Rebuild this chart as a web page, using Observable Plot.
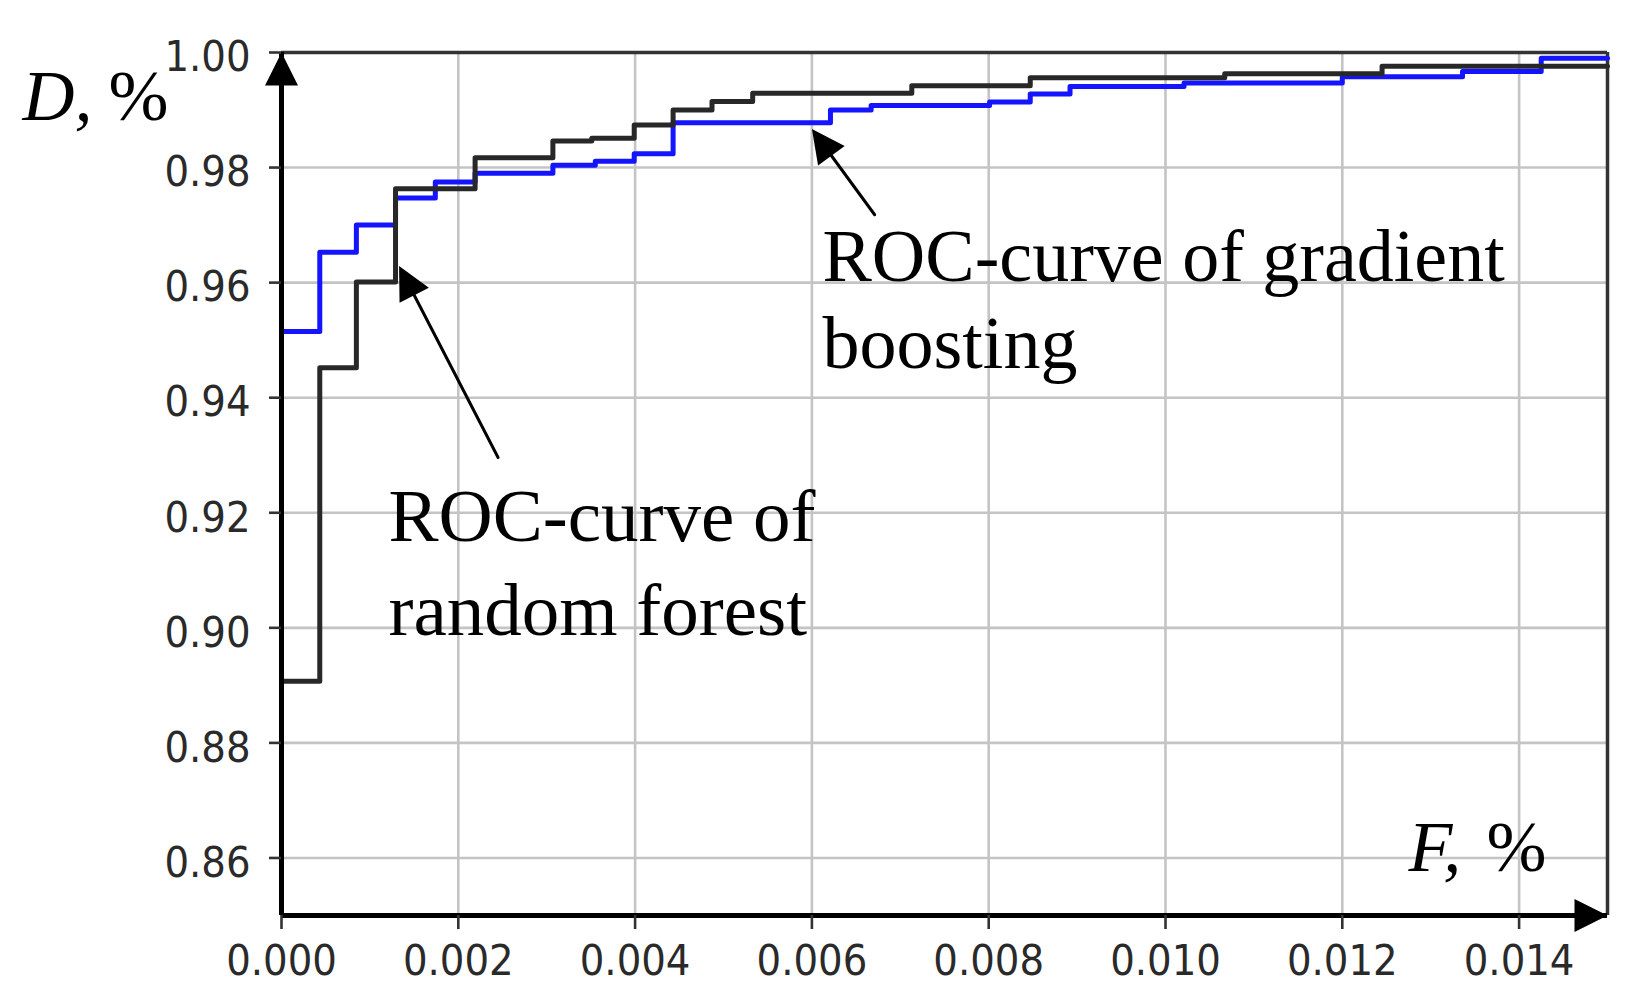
<!DOCTYPE html>
<html>
<head>
<meta charset="utf-8">
<script src="https://cdn.jsdelivr.net/npm/d3@7"></script>
<script src="https://cdn.jsdelivr.net/npm/@observablehq/plot@0.6"></script>
<style>
  html, body { margin: 0; padding: 0; background: #ffffff; }
  #chart { width: 1643px; height: 1008px; }
</style>
</head>
<body>
<div id="chart"></div>
<script>
// ---------- data ----------
const xTicks = [0, 0.002, 0.004, 0.006, 0.008, 0.010, 0.012, 0.014];
const yTicks = [0.86, 0.88, 0.90, 0.92, 0.94, 0.96, 0.98, 1.00];
const xDomain = [0, 0.015];
const yDomain = [0.85, 1.00];

// ROC-curve of random forest (black)
const rfF = [0, 0.000433, 0.000847, 0.00129, 0.00219, 0.00307, 0.00351, 0.00399, 0.00443, 0.00487, 0.00533, 0.00713, 0.00847, 0.01067, 0.01245, 0.015];
const rfD = [0.8907, 0.9452, 0.9601, 0.9763, 0.9817, 0.9846, 0.9851, 0.9874, 0.9900, 0.9915, 0.9929, 0.9942, 0.9956, 0.9963, 0.9976, 0.9976];

// ROC-curve of gradient boosting (blue)
const gbF = [0, 0.000433, 0.000847, 0.00129, 0.00174, 0.00219, 0.00307, 0.00355, 0.00399, 0.00443, 0.00621, 0.00667, 0.00801, 0.00847, 0.00892, 0.01021, 0.0120, 0.01336, 0.01425, 0.015];
const gbD = [0.9515, 0.9653, 0.9700, 0.9747, 0.9775, 0.9790, 0.9804, 0.9811, 0.9824, 0.9878, 0.9900, 0.9908, 0.9914, 0.9928, 0.9941, 0.9947, 0.9958, 0.9967, 0.9990, 0.9990];

// annotations
const rfLabel = "ROC-curve of\nrandom forest";
const gbLabel = "ROC-curve of gradient\nboosting";
const rfLabelAt = [0.00121, 0.8987];
const gbLabelAt = [0.00612, 0.9451];
const rfArrowTail = [0.00245, 0.9296];
const rfArrowTip = [0.00133, 0.9629];
const gbArrowTail = [0.00671, 0.9718];
const gbArrowTip = [0.00600, 0.9867];
const yAxisLabel = ["D,", "%"];
const xAxisLabel = ["F,", "%"];

// ---------- layout ----------
const W = 1643, H = 1008;
const mL = 281, mR = 36, mT = 52, mB = 93;
const serif = "'Liberation Serif', 'Times New Roman', serif";
const sans = "'DejaVu Sans Condensed', 'DejaVu Sans', sans-serif";

const rf = rfF.map((f, i) => ({F: f, D: rfD[i]}));
const gb = gbF.map((f, i) => ({F: f, D: gbD[i]}));

// mirror scales only to compute arrowhead angles
const xs = d3.scaleLinear(xDomain, [mL, W - mR]);
const ys = d3.scaleLinear(yDomain, [H - mB, mT]);
const angleOf = (tail, tip) =>
  Math.atan2(xs(tip[0]) - xs(tail[0]), -(ys(tip[1]) - ys(tail[1]))) * 180 / Math.PI;

// filled triangle, tip at the origin, pointing up
const triangle = {
  draw(ctx) {
    ctx.moveTo(0, 0);
    ctx.lineTo(-16.5, 33);
    ctx.lineTo(16.5, 33);
    ctx.closePath();
  }
};

const arrows = [
  {x1: rfArrowTail[0], y1: rfArrowTail[1], x2: rfArrowTip[0], y2: rfArrowTip[1], a: angleOf(rfArrowTail, rfArrowTip)},
  {x1: gbArrowTail[0], y1: gbArrowTail[1], x2: gbArrowTip[0], y2: gbArrowTip[1], a: angleOf(gbArrowTail, gbArrowTip)}
];

const chart = Plot.plot({
  width: W,
  height: H,
  marginLeft: mL,
  marginRight: mR,
  marginTop: mT,
  marginBottom: mB,
  style: {background: "#ffffff", fontFamily: sans, fontStretch: "condensed", overflow: "visible"},
  x: {domain: xDomain, axis: null},
  y: {domain: yDomain, axis: null},
  marks: [
    // grid
    Plot.ruleX(xTicks, {stroke: "#c4c4c4", strokeWidth: 2.6}),
    Plot.ruleY(yTicks, {stroke: "#c4c4c4", strokeWidth: 2.6}),
    // frame top / right
    Plot.ruleY([yDomain[1]], {stroke: "#333333", strokeWidth: 3.5}),
    Plot.ruleX([xDomain[1]], {stroke: "#333333", strokeWidth: 3.5}),
    // curves
    Plot.line(gb, {x: "F", y: "D", curve: "step-after", stroke: "#1414ff", strokeWidth: 5}),
    Plot.line(rf, {x: "F", y: "D", curve: "step-after", stroke: "#282828", strokeWidth: 5}),
    // axis lines with arrowheads
    Plot.ruleX([xDomain[0]], {stroke: "#000000", strokeWidth: 5}),
    Plot.ruleY([yDomain[0]], {stroke: "#000000", strokeWidth: 5}),
    Plot.dot([0], {x: () => xDomain[0], y: () => yDomain[1], symbol: triangle, fill: "#000000", stroke: "none", rotate: 0}),
    Plot.dot([0], {x: () => xDomain[1], y: () => yDomain[0], symbol: triangle, fill: "#000000", stroke: "none", rotate: 90}),
    // tick marks
    Plot.axisX({ticks: xTicks, anchor: "bottom", tickSize: 14, fill: "none", stroke: "#333333", strokeWidth: 2.6, label: null}),
    Plot.axisY({ticks: yTicks, anchor: "left", tickSize: 12, fill: "none", stroke: "#333333", strokeWidth: 2.6, label: null}),
    // tick labels
    Plot.axisX({ticks: xTicks, anchor: "bottom", tickSize: 14, tickPadding: 15, stroke: "none", fill: "#2a2a2a",
      tickFormat: d3.format(".3f"), fontSize: 43, fontFamily: sans, label: null}),
    Plot.axisY({ticks: yTicks, anchor: "left", tickSize: 12, tickPadding: 19, stroke: "none", fill: "#2a2a2a",
      tickFormat: d3.format(".2f"), fontSize: 43, fontFamily: sans, dy: 5, label: null}),
    // axis titles
    Plot.text([yAxisLabel[0]], {frameAnchor: "top-left", text: d => d, dx: 22 - mL, dy: 119 - mT, lineAnchor: "bottom",
      textAnchor: "start", fontFamily: serif, fontStyle: "italic", fontSize: 72, fill: "#000000"}),
    Plot.text([yAxisLabel[1]], {frameAnchor: "top-left", text: d => d, dx: 108 - mL, dy: 119 - mT, lineAnchor: "bottom",
      textAnchor: "start", fontFamily: serif, fontSize: 72, fill: "#000000"}),
    Plot.text([xAxisLabel[0]], {frameAnchor: "bottom-left", text: d => d, dx: 1408 - mL, dy: 870 - (H - mB), lineAnchor: "bottom",
      textAnchor: "start", fontFamily: serif, fontStyle: "italic", fontSize: 72, fill: "#000000"}),
    Plot.text([xAxisLabel[1]], {frameAnchor: "bottom-left", text: d => d, dx: 1486 - mL, dy: 870 - (H - mB), lineAnchor: "bottom",
      textAnchor: "start", fontFamily: serif, fontSize: 72, fill: "#000000"}),
    // annotation arrows
    Plot.arrow(arrows, {x1: "x1", y1: "y1", x2: "x2", y2: "y2", headLength: 0, insetEnd: 26, stroke: "#000000", strokeWidth: 3}),
    Plot.dot(arrows, {x: "x2", y: "y2", symbol: triangle, fill: "#000000", stroke: "none", rotate: "a"}),
    // annotation labels
    Plot.text([rfLabel], {x: () => rfLabelAt[0], y: () => rfLabelAt[1], text: d => d, textAnchor: "start", lineAnchor: "bottom",
      lineHeight: 1.26, fontFamily: serif, fontSize: 75, fill: "#000000"}),
    Plot.text([gbLabel], {x: () => gbLabelAt[0], y: () => gbLabelAt[1], text: d => d, textAnchor: "start", lineAnchor: "bottom",
      lineHeight: 1.18, fontFamily: serif, fontSize: 74, fill: "#000000"})
  ]
});

document.getElementById("chart").appendChild(chart);
</script>
</body>
</html>
